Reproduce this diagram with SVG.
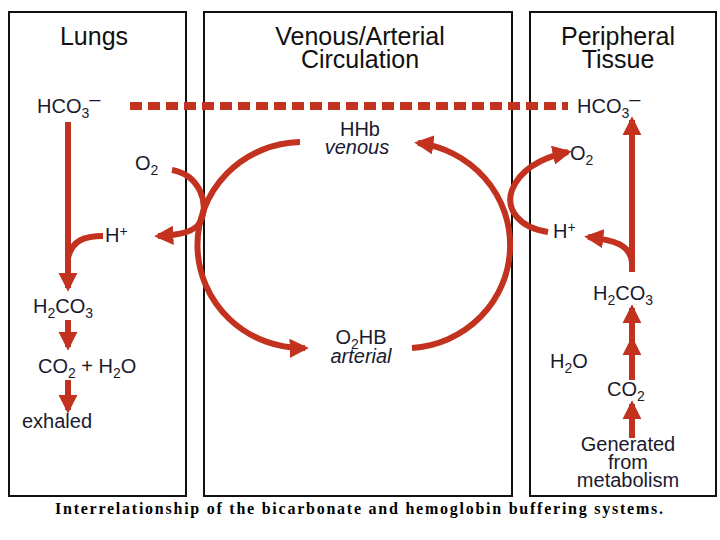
<svg xmlns="http://www.w3.org/2000/svg" width="720" height="540" viewBox="0 0 720 540">
<defs>
<marker id="ah" viewBox="0 0 10 10" refX="8" refY="5" markerWidth="3.2" markerHeight="3.2" orient="auto" markerUnits="strokeWidth"><path d="M0,0 L10,5 L0,10 z" fill="#c2321f"/></marker>
<style>
.p{fill:none;stroke:#111;stroke-width:2}
.r{fill:none;stroke:#c2321f;stroke-width:6}
.t{font-family:"Liberation Sans",Arial,sans-serif;font-size:20px;fill:#1a1a2e}
.h{font-family:"Liberation Sans",Arial,sans-serif;font-size:25px;fill:#111;text-anchor:middle}
.s{font-size:14px}
</style>
</defs>
<rect width="720" height="540" fill="#fff"/>
<g id="panels">
<rect class="p" x="9" y="12" width="177" height="484"/>
<rect class="p" x="204" y="12" width="308" height="484"/>
<rect class="p" x="530" y="12" width="186" height="484"/>
<text class="h" x="94" y="45">Lungs</text>
<text class="h" x="360" y="45">Venous/Arterial</text>
<text class="h" x="360" y="68">Circulation</text>
<text class="h" x="618" y="45">Peripheral</text>
<text class="h" x="618" y="68">Tissue</text>
</g>
<g id="connectors">
<line x1="130" y1="106" x2="568" y2="106" stroke="#c2321f" stroke-width="8" stroke-dasharray="12,6"/>
<path class="r" d="M300,142 A105,103 0 0 0 305,348" marker-end="url(#ah)"/>
<path class="r" d="M412,348 A105,103 0 0 0 418,143" marker-end="url(#ah)"/>
<path class="r" d="M68,122 V288" marker-end="url(#ah)"/>
<path class="r" d="M103,236 C85,236 72,240 68,258"/>
<path class="r" d="M172,170 C200,175 210,205 200,222 C195,232 180,235 158,236" marker-end="url(#ah)"/>
<path class="r" d="M68,320 V347" marker-end="url(#ah)"/>
<path class="r" d="M68,380 V410" marker-end="url(#ah)"/>
<path class="r" d="M632,272 V120" marker-end="url(#ah)"/>
<path class="r" d="M632,262 C630,245 615,240 588,237" marker-end="url(#ah)"/>
<path class="r" d="M548,232 C520,228 505,210 512,190 C520,170 540,158 568,152" marker-end="url(#ah)"/>
<path class="r" d="M632,355 V308" marker-end="url(#ah)"/>
<path class="r" d="M632,380 V340" marker-end="url(#ah)"/>
<path class="r" d="M632,438 V404" marker-end="url(#ah)"/>
</g>
<g id="lungs">
<text class="t" x="37" y="113">HCO<tspan class="s" dy="5">3</tspan><tspan dy="-12">–</tspan></text>
<text class="t" x="135" y="170">O<tspan class="s" dy="5">2</tspan></text>
<text class="t" x="105" y="242">H<tspan class="s" dy="-6">+</tspan></text>
<text class="t" x="33" y="313">H<tspan class="s" dy="5">2</tspan><tspan dy="-5">CO</tspan><tspan class="s" dy="5">3</tspan></text>
<text class="t" x="38" y="373">CO<tspan class="s" dy="5">2</tspan><tspan dy="-5"> + H</tspan><tspan class="s" dy="5">2</tspan><tspan dy="-5">O</tspan></text>
<text class="t" x="22" y="428">exhaled</text>
</g>
<g id="circulation">
<text class="t" x="360" y="136" text-anchor="middle" font-size="19">HHb</text>
<text class="t" x="357" y="154" text-anchor="middle" font-size="19" font-style="italic">venous</text>
<text class="t" x="361" y="344" text-anchor="middle" font-size="19">O<tspan class="s" dy="5">2</tspan><tspan dy="-5">HB</tspan></text>
<text class="t" x="361" y="363" text-anchor="middle" font-size="19" font-style="italic">arterial</text>
</g>
<g id="tissue">
<text class="t" x="577" y="113">HCO<tspan class="s" dy="5">3</tspan><tspan dy="-12">–</tspan></text>
<text class="t" x="570" y="160">O<tspan class="s" dy="5">2</tspan></text>
<text class="t" x="553" y="238">H<tspan class="s" dy="-6">+</tspan></text>
<text class="t" x="593" y="300">H<tspan class="s" dy="5">2</tspan><tspan dy="-5">CO</tspan><tspan class="s" dy="5">3</tspan></text>
<text class="t" x="550" y="368">H<tspan class="s" dy="5">2</tspan><tspan dy="-5">O</tspan></text>
<text class="t" x="607" y="396">CO<tspan class="s" dy="5">2</tspan></text>
<text class="t" x="628" y="451" text-anchor="middle" font-size="18">Generated</text>
<text class="t" x="628" y="469" text-anchor="middle" font-size="18">from</text>
<text class="t" x="628" y="487" text-anchor="middle" font-size="18">metabolism</text>
</g>
<text x="55" y="514" textLength="608" font-family="Liberation Serif,serif" font-weight="bold" font-size="16">Interrelationship of the bicarbonate and hemoglobin buffering systems.</text>
</svg>
